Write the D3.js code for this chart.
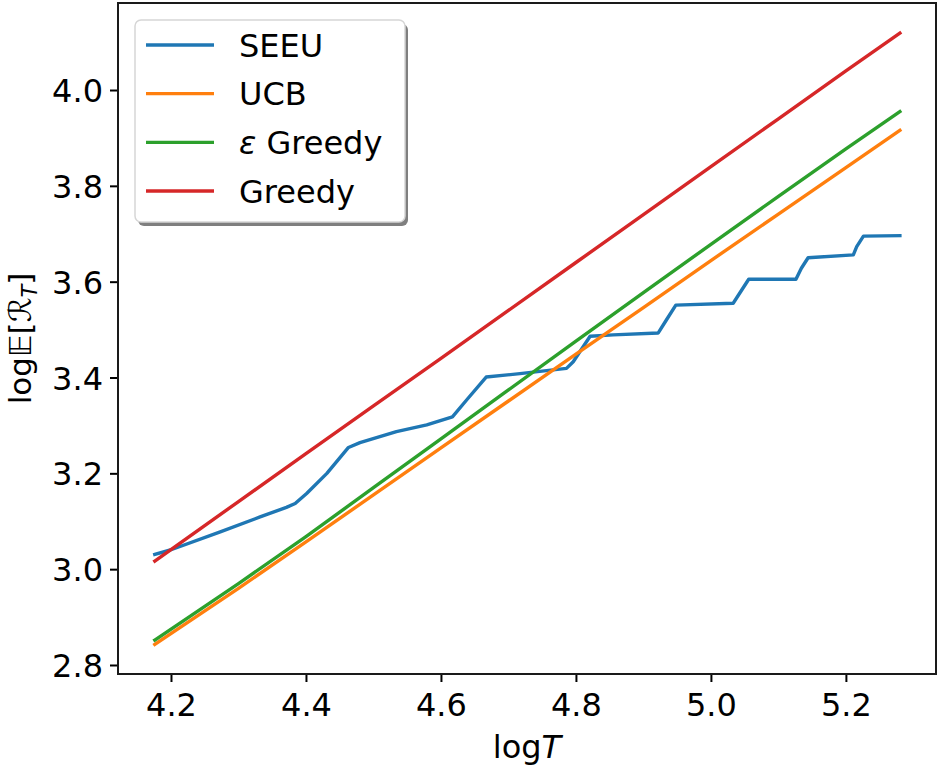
<!DOCTYPE html>
<html lang="en">
<head>
    <meta charset="UTF-8">
    <title>Regret vs T</title>
    <style>
        body { margin: 0; background: #fff; }
        text { font-family: "DejaVu Sans", sans-serif; fill: #000; }
    </style>
</head>
<body>
<svg id="chart" width="941" height="767"></svg>
<script src="https://d3js.org/d3.v7.min.js"></script>
<script>
    /* global d3 */

    // log T grid for the three smooth curves
    let logT = [4.176, 4.3, 4.4, 4.5, 4.6, 4.7, 4.8, 4.9, 5.0, 5.1, 5.2, 5.28];
    let ucb = [2.843, 2.960, 3.057, 3.155, 3.253, 3.351, 3.449, 3.546, 3.644, 3.741, 3.838, 3.916];
    let epsGreedy = [2.852, 2.970, 3.068, 3.170, 3.272, 3.374, 3.476, 3.577, 3.678, 3.778, 3.877, 3.955];
    let greedy = [3.017, 3.141, 3.241, 3.341, 3.440, 3.540, 3.640, 3.740, 3.840, 3.940, 4.040, 4.119];

    // SEEU is step-like, so it gets its own x values
    let seeuT = [4.176, 4.199, 4.273, 4.332, 4.371, 4.384, 4.401, 4.431, 4.463, 4.480, 4.534, 4.579,
        4.617, 4.638, 4.667, 4.717, 4.786, 4.796, 4.821, 4.855, 4.922, 4.934, 4.948, 5.033,
        5.044, 5.056, 5.126, 5.134, 5.144, 5.211, 5.216, 5.226, 5.280];
    let seeu = [3.031, 3.040, 3.078, 3.109, 3.129, 3.137, 3.158, 3.200, 3.254, 3.264, 3.287, 3.301,
        3.318, 3.353, 3.401, 3.408, 3.419, 3.433, 3.486, 3.489, 3.493, 3.520, 3.551, 3.555,
        3.579, 3.605, 3.605, 3.628, 3.650, 3.656, 3.673, 3.695, 3.696];

    let xTicks = [4.2, 4.4, 4.6, 4.8, 5.0, 5.2];
    let yTicks = [2.8, 3.0, 3.2, 3.4, 3.6, 3.8, 4.0];

    // legend labels: [prefix in italic, rest]
    let seriesNames = [["", "SEEU"], ["", "UCB"], ["ε", " Greedy"], ["", "Greedy"]];
    let colors = ["#1f77b4", "#ff7f0e", "#2ca02c", "#d62728"];

    let svg = d3.select("#chart"),
        pLeft = 118, pRight = 936, pTop = 3, pBottom = 674,
        fontSize = 32;

    let x = d3.scaleLinear().domain([4.1215, 5.3335]).range([pLeft, pRight]);
    let y = d3.scaleLinear().domain([2.7812, 4.1816]).range([pBottom, pTop]);

    let line = d3.line()
        .x(d => x(d[0]))
        .y(d => y(d[1]));

    let series = [
        d3.zip(seeuT, seeu),
        d3.zip(logT, ucb),
        d3.zip(logT, epsGreedy),
        d3.zip(logT, greedy)
    ];

    // curves
    svg.append("g")
        .selectAll("path")
        .data(series)
        .join("path")
        .attr("d", line)
        .attr("fill", "none")
        .attr("stroke", (d, i) => colors[i])
        .attr("stroke-width", 3.4)
        .attr("stroke-linejoin", "round")
        .attr("stroke-linecap", "square");

    // axes
    let xAxis = svg.append("g")
        .attr("transform", `translate(0,${pBottom})`)
        .call(d3.axisBottom(x).tickValues(xTicks).tickFormat(d3.format(".1f"))
            .tickSize(8).tickPadding(8));
    let yAxis = svg.append("g")
        .attr("transform", `translate(${pLeft},0)`)
        .call(d3.axisLeft(y).tickValues(yTicks).tickFormat(d3.format(".1f"))
            .tickSize(8).tickPadding(7));

    [xAxis, yAxis].forEach(function (g) {
        g.select(".domain").remove();
        g.selectAll(".tick line").attr("stroke", "#000").attr("stroke-width", 2);
        g.selectAll(".tick text")
            .style("font-size", fontSize + "px")
            .style("font-family", "DejaVu Sans, sans-serif")
            .attr("fill", "#000");
    });
    xAxis.selectAll(".tick text").attr("dy", "0.8em");
    yAxis.selectAll(".tick text").attr("dy", "0.36em");

    // frame
    svg.append("rect")
        .attr("x", pLeft).attr("y", pTop)
        .attr("width", pRight - pLeft).attr("height", pBottom - pTop)
        .attr("fill", "none")
        .attr("stroke", "#1a1a1a")
        .attr("stroke-width", 2);

    // axis labels
    let xl = svg.append("text")
        .attr("x", (pLeft + pRight) / 2)
        .attr("y", 758)
        .attr("text-anchor", "middle")
        .style("font-size", fontSize + "px");
    xl.append("tspan").text("log");
    xl.append("tspan").style("font-style", "italic").text("T");

    let yl = svg.append("text")
        .attr("transform", `translate(31,${(pTop + pBottom) / 2}) rotate(-90)`)
        .attr("text-anchor", "middle")
        .style("font-size", "31px");
    yl.append("tspan").text("log");
    yl.append("tspan").style("font-style", "italic").text("\u{1D53C}");
    yl.append("tspan").text("[");
    yl.append("tspan").style("font-style", "italic").text("\u211B");
    yl.append("tspan").attr("dy", 6).style("font-size", "21px").style("font-style", "italic").text("T");
    yl.append("tspan").attr("dy", -6).text("]");

    // legend
    let lg = svg.append("g");
    lg.append("rect")
        .attr("x", 138).attr("y", 24)
        .attr("width", 270).attr("height", 202)
        .attr("rx", 6)
        .attr("fill", "#7f7f7f");
    lg.append("rect")
        .attr("x", 135).attr("y", 20)
        .attr("width", 270).attr("height", 202)
        .attr("rx", 6)
        .attr("fill", "#fff")
        .attr("stroke", "#d6d6d6")
        .attr("stroke-width", 1.5);

    let rowY = d3.scaleLinear().domain([0, 3]).range([45, 191]);
    let items = lg.selectAll("g.item")
        .data(seriesNames)
        .join("g")
        .attr("class", "item")
        .attr("transform", (d, i) => `translate(0,${rowY(i)})`);
    items.append("line")
        .attr("x1", 146).attr("x2", 214)
        .attr("stroke", (d, i) => colors[i])
        .attr("stroke-width", 3.4);
    let labels = items.append("text")
        .attr("x", 239)
        .attr("dy", "0.36em")
        .style("font-size", fontSize + "px");
    labels.append("tspan").style("font-style", "italic").text(d => d[0]);
    labels.append("tspan").text(d => d[1]);
</script>
</body>
</html>
